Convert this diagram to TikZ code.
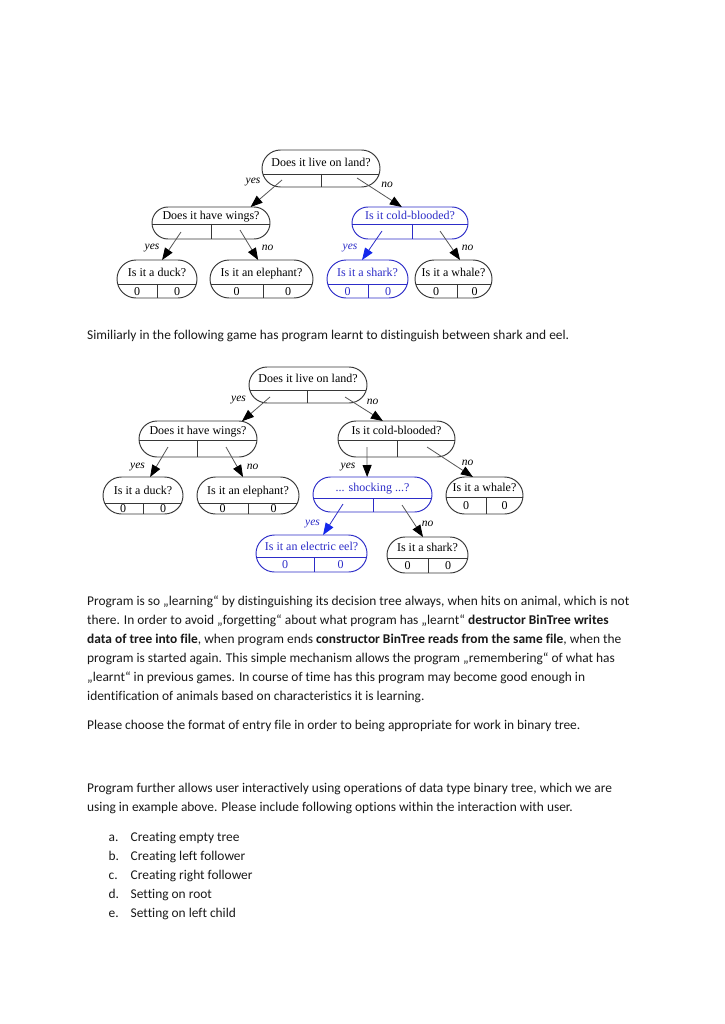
\documentclass[tikz,border=0pt]{standalone}
\usepackage{fontspec}
\setmainfont{Carlito}[Ligatures={TeX,NoCommon}]
\newfontfamily\treefont{Liberation Serif}
\usetikzlibrary{shapes.misc,arrows.meta,calc}
\definecolor{tgray}{RGB}{55,55,55}
\definecolor{lgray}{RGB}{85,85,85}
\definecolor{tblue}{RGB}{45,45,200}
\definecolor{ablue}{RGB}{20,40,235}
\definecolor{ink}{RGB}{25,25,25}
\tikzset{
  tshape/.style={rounded rectangle, line width=0.95pt, inner sep=0pt, outer sep=0pt},
  tsh-k/.style={draw=tgray}, tsh-b/.style={draw=tblue},
  tln-k/.style={draw=tgray, line width=0.9pt}, tln-b/.style={draw=tblue, line width=0.9pt},
  ttext/.style={font=\treefont\fontsize{12}{14}\selectfont, inner sep=0pt, anchor=base},
  txt-k/.style={text=black}, txt-b/.style={text=tblue},
  elab/.style={font=\treefont\itshape\fontsize{11.5}{13}\selectfont, inner sep=0pt},
  elab-k/.style={elab, text=black}, elab-b/.style={elab, text=tblue},
  arrk/.style={draw=lgray, line width=0.8pt, -{Triangle[length=12pt,width=9pt,color=black]}},
  arrb/.style={draw=tblue, line width=0.8pt, -{Triangle[length=12pt,width=9pt,color=ablue]}},
  body/.style={font=\fontsize{13.4}{19.1}\selectfont, text=ink, inner sep=0pt, anchor=base west},
}
% name, xl, xr, yt, yb, yd, xv, text, colour key (k/b)
\newcommand{\tbox}[9]{%
  \node[tshape, tsh-#9, minimum width={(#3)-(#2)}, minimum height={(#5)-(#4)}] (#1) at ({((#2)+(#3))/2},{((#4)+(#5))/2}) {};
  \draw[tln-#9] ({(#2)+((#5)-(#4))/2-sqrt((((#5)-(#4))/2)^2-((#6)-((#4)+(#5))/2)^2)},#6) -- ({(#3)-((#5)-(#4))/2+sqrt((((#5)-(#4))/2)^2-((#6)-((#4)+(#5))/2)^2)},#6);
  \draw[tln-#9] (#7,#6) -- (#7,#5);
  \node[ttext, txt-#9] (#1-q) at ({((#2)+(#3))/2},{((#4)+(#6))/2+4.2}) {#8};
}
% name, xl, xr, yd, yb, xv, colour key
\newcommand{\tzeros}[7]{%
  \node[ttext, txt-#7] (#1-zl) at ({((#2)+(#6))/2},{((#4)+(#5))/2+4.0}) {0};
  \node[ttext, txt-#7] (#1-zr) at ({((#6)+(#3))/2},{((#4)+(#5))/2+4.0}) {0};
}
\begin{document}
\begin{tikzpicture}[x=1pt, y=-1pt]
\useasboundingbox (0,0) rectangle (724,1024);
\fill[white] (0,0) rectangle (724,1024);

% ---------- first tree ----------
\tbox{a1}{262}{380}{150}{187}{174}{321}{Does it live on land?}{k}
\tbox{b1}{152}{270}{207}{239}{224}{211}{Does it have wings?}{k}
\tbox{c1}{352}{468}{207}{239}{224}{412}{Is it cold-blooded?}{b}
\tbox{d1}{117}{197}{260}{298}{284}{157}{Is it a duck?}{k}
\tbox{e1}{210}{313}{260}{298}{284}{263}{Is it an elephant?}{k}
\tbox{f1}{327}{408}{260}{298}{284}{368}{Is it a shark?}{b}
\tbox{g1}{415}{492}{260}{298}{284}{457}{Is it a whale?}{k}
\tzeros{d1}{117}{197}{284}{298}{157}{k}
\tzeros{e1}{210}{313}{284}{298}{263}{k}
\tzeros{f1}{327}{408}{284}{298}{368}{b}
\tzeros{g1}{415}{492}{284}{298}{457}{k}

\coordinate (a1y) at (282,180); \coordinate (a1n) at (357,178);
\coordinate (b1y) at (181,232); \coordinate (b1n) at (240,230);
\coordinate (c1y) at (382,231); \coordinate (c1n) at (440,231);
\draw[arrk] (a1y) -- (b1.22);
\draw[arrk] (a1n) -- (c1.117);
\draw[arrk] (b1y) -- (d1.75);
\draw[arrk] (b1n) -- (e1.100);
\draw[arrb] (c1y) -- (f1.106);
\draw[arrk] (c1n) -- (g1.71);
\node[elab-k] (l1a) at (253,182.5) {yes};
\node[elab-k] (l1b) at (387,185) {no};
\node[elab-k] (l1c) at (152,248) {yes};
\node[elab-k] (l1d) at (267.5,248) {no};
\node[elab-b] (l1e) at (350,248) {yes};
\node[elab-k] (l1f) at (467.5,248) {no};

% ---------- sentence ----------
\node[body] (s1) at (87,339.5) {Similiarly in the following game has program learnt to distinguish between shark and eel.};

% ---------- second tree ----------
\tbox{a2}{249}{367}{367}{403}{390}{307}{Does it live on land?}{k}
\tbox{b2}{139}{257}{421}{457}{440}{197}{Does it have wings?}{k}
\tbox{c2}{338}{455}{421}{457}{440}{397}{Is it cold-blooded?}{k}
\tbox{d2}{103}{183}{477}{514}{503}{143}{Is it a duck?}{k}
\tbox{e2}{197}{299}{477}{514}{503}{248}{Is it an elephant?}{k}
\tbox{f2}{313}{432}{477}{512}{498}{373}{... shocking ...?}{b}
\tbox{g2}{446}{523}{477}{514}{497}{486}{Is it a whale?}{k}
\tbox{h2}{256}{367}{535}{572}{557}{314}{Is it an electric eel?}{b}
\tbox{i2}{387}{468}{537}{573}{558}{428}{Is it a shark?}{k}
\tzeros{d2}{103}{183}{503}{514}{143}{k}
\tzeros{e2}{197}{299}{503}{514}{248}{k}
\tzeros{g2}{446}{523}{497}{514}{486}{k}
\tzeros{h2}{256}{367}{557}{572}{314}{b}
\tzeros{i2}{387}{468}{558}{573}{428}{k}

\coordinate (a2y) at (270,397); \coordinate (a2n) at (345,397);
\coordinate (b2y) at (168,447); \coordinate (b2n) at (226,447);
\coordinate (c2y) at (367,447); \coordinate (c2n) at (427,447);
\coordinate (f2y) at (343,504); \coordinate (f2n) at (402,505);
\draw[arrk] (a2y) -- (b2.22);
\draw[arrk] (a2n) -- (c2.127);
\draw[arrk] (b2y) -- (d2.69);
\draw[arrk] (b2n) -- (e2.105);
\draw[arrk] (c2y) -- (f2.107);
\draw[arrk] (c2n) -- (g2.122);
\draw[arrb] (f2y) -- (h2.58);
\draw[arrk] (f2n) -- (i2.104);
\node[elab-k] (l2a) at (238.5,400) {yes};
\node[elab-k] (l2b) at (372.5,402) {no};
\node[elab-k] (l2c) at (137.5,467) {yes};
\node[elab-k] (l2d) at (252.5,467) {no};
\node[elab-k] (l2e) at (348,467) {yes};
\node[elab-k] (l2f) at (467.5,463) {no};
\node[elab-b] (l2g) at (312.5,524) {yes};
\node[elab-k] (l2h) at (427.5,524) {no};

% ---------- paragraph ----------
\node[body] (p1) at (87,605.0) {Program is so „learning“ by distinguishing its decision tree always, when hits on animal, which is not};
\node[body] (p2) at (87,624.1) {there. In order to avoid „forgetting“ about what program has „learnt“ \textbf{destructor BinTree writes}};
\node[body] (p3) at (87,643.2) {\textbf{data of tree into file}, when program ends \textbf{constructor BinTree reads from the same file}, when the};
\node[body] (p4) at (87,662.3) {program is started again. This simple mechanism allows the program „remembering“ of what has};
\node[body] (p5) at (87,681.4) {„learnt“ in previous games. In course of time has this program may become good enough in};
\node[body] (p6) at (87,700.5) {identification of animals based on characteristics it is learning.};

\node[body] (q1) at (87,729.5) {Please choose the format of entry file in order to being appropriate for work in binary tree.};

\node[body] (r1) at (87,792.5) {Program further allows user interactively using operations of data type binary tree, which we are};
\node[body] (r2) at (87,811.6) {using in example above. Please include following options within the interaction with user.};

% ---------- list ----------
\node[body] (ma) at (108.5,841.0) {a.};
\node[body] (ia) at (130.5,841.0) {Creating empty tree};
\node[body] (mb) at (108.5,860.1) {b.};
\node[body] (ib) at (130.5,860.1) {Creating left follower};
\node[body] (mc) at (108.5,879.2) {c.};
\node[body] (ic) at (130.5,879.2) {Creating right follower};
\node[body] (md) at (108.5,898.3) {d.};
\node[body] (id) at (130.5,898.3) {Setting on root};
\node[body] (me) at (108.5,917.4) {e.};
\node[body] (ie) at (130.5,917.4) {Setting on left child};
\end{tikzpicture}
\end{document}
